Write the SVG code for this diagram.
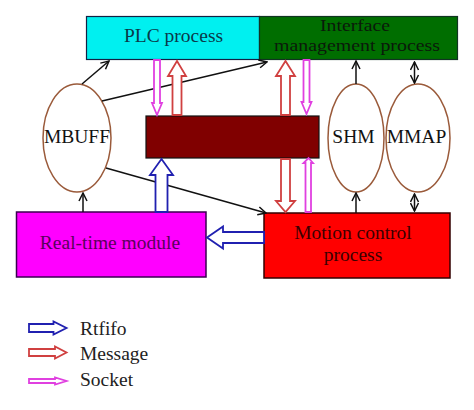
<svg xmlns="http://www.w3.org/2000/svg" width="474" height="410" viewBox="0 0 474 410">
<style>
text{font-family:"Liberation Serif","Times New Roman",serif;font-size:19.5px;text-anchor:middle}
.sm{font-size:17px}
.ell{fill:#fff;stroke:#9a5a3a;stroke-width:1.5}
.ln{stroke:#111;stroke-width:1.5;fill:none}
.rt{fill:#fff;stroke:#2020b0;stroke-width:1.8}
.msg{fill:#fff;stroke:#d04040;stroke-width:1.8}
.sock{fill:#fff;stroke:#e040e0;stroke-width:1.8}
</style>
<defs>
<marker id="ah" viewBox="0 0 10 10" refX="9" refY="5" markerWidth="10" markerHeight="10" markerUnits="userSpaceOnUse" orient="auto-start-reverse">
<path d="M1,1 L9,5 L1,9" fill="none" stroke="#111" stroke-width="1.5"/>
</marker>
</defs>
<rect width="474" height="410" fill="#fff"/>
<g id="plc"><rect x="86.5" y="16.5" width="173" height="43" fill="#00f0f0" stroke="#124" stroke-width="1.2"/><text x="173.5" y="42" fill="#0a3a4a">PLC process</text></g>
<g id="iface"><rect x="259.5" y="16.5" width="198" height="43" fill="#006e00" stroke="#132" stroke-width="1.2"/><text class="sm" x="355" y="31" fill="#0a1a0a" textLength="70" lengthAdjust="spacingAndGlyphs">Interface</text><text class="sm" x="357" y="51" fill="#0a1a0a" textLength="166" lengthAdjust="spacingAndGlyphs">management process</text></g>
<g id="mbuff"><ellipse cx="77" cy="138" rx="34" ry="54" class="ell"/><text x="77" y="142.5" fill="#111">MBUFF</text></g>
<g id="kernel"><rect x="146" y="116" width="173" height="42" fill="#800000" stroke="#111" stroke-width="1.2"/></g>
<g id="shm"><ellipse cx="356" cy="138" rx="28" ry="54" class="ell"/><text x="353.5" y="142.5" fill="#111">SHM</text></g>
<g id="mmap"><ellipse cx="418" cy="138" rx="32" ry="54" class="ell"/><text x="416.5" y="142.5" fill="#111">MMAP</text></g>
<g id="rtm"><rect x="16.5" y="212" width="189.5" height="65" fill="#ff00ff" stroke="#3a0050" stroke-width="1.5"/><text x="110" y="248.5" fill="#5a005a">Real-time module</text></g>
<g id="motion"><rect x="264" y="213" width="186" height="65" fill="#ff0000" stroke="#300" stroke-width="1.5"/><text x="353" y="238.5" fill="#3a0000">Motion control</text><text x="353" y="261" fill="#3a0000">process</text></g>
<g id="connectors">
<line x1="82" y1="84" x2="109" y2="61" class="ln" marker-end="url(#ah)"/>
<line x1="102" y1="101" x2="267" y2="62" class="ln" marker-end="url(#ah)"/>
<line x1="106" y1="168" x2="266" y2="213" class="ln" marker-end="url(#ah)"/>
<line x1="83" y1="212" x2="83" y2="193" class="ln" marker-end="url(#ah)"/>
<line x1="356" y1="84" x2="356" y2="61" class="ln" marker-end="url(#ah)"/>
<line x1="356" y1="213" x2="356" y2="193" class="ln" marker-end="url(#ah)"/>
<line x1="414.5" y1="62" x2="414.5" y2="83" class="ln" marker-start="url(#ah)" marker-end="url(#ah)"/>
<line x1="414.5" y1="194" x2="414.5" y2="211" class="ln" marker-start="url(#ah)" marker-end="url(#ah)"/>
<polygon class="msg" points="172.5,115 172.5,76 168,76 177,61 186,76 181.5,76 181.5,115"/>
<polygon class="sock" points="154,60 154,103 152,103 157,115 162,103 160,103 160,60"/>
<polygon class="rt" points="155.5,212 155.5,175 150,175 161.5,159 173,175 167.5,175 167.5,212"/>
<polygon class="msg" points="281,115 281,76 276,76 285.5,61 295,76 290,76 290,115"/>
<polygon class="msg" points="281,159 281,201 276,201 285.5,212 295,201 290,201 290,159"/>
<polygon class="sock" points="303.5,60 303.5,102 301.5,102 306.5,114 311.5,102 309.5,102 309.5,60"/>
<polygon class="sock" points="305.5,212 305.5,163 303.5,163 308.5,158 313,163 311,163 311,212"/>
<polygon class="rt" points="264,232 223,232 223,226.5 207,237.5 223,248.5 223,243 264,243"/>
</g>
<g id="legend">
<polygon class="rt" points="29,324 53.5,324 53.5,321.5 66.5,328 53.5,334.5 53.5,332 29,332"/>
<text x="80" y="335" style="text-anchor:start" fill="#222">Rtfifo</text>
<polygon class="msg" points="29,349 55,349 55,346.5 66.5,352.5 55,358.5 55,356 29,356"/>
<text x="80" y="360" style="text-anchor:start" fill="#222">Message</text>
<polygon class="sock" points="29,379 55,379 55,377.5 66.5,381 55,384.5 55,383 29,383"/>
<text x="80" y="385.5" style="text-anchor:start" fill="#222">Socket</text>
</g>
</svg>
